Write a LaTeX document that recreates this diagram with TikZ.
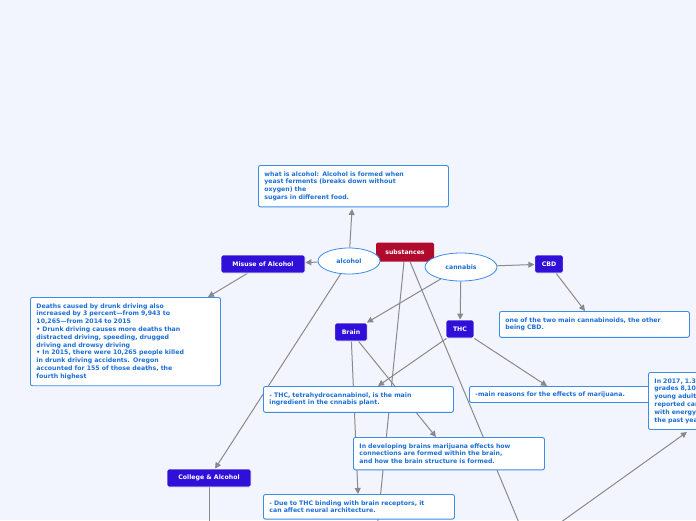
\documentclass[tikz,border=0pt]{standalone}
\usepackage{fontspec}
\setmainfont{DejaVu Sans}
\usetikzlibrary{arrows.meta,shapes.geometric}
\definecolor{bg}{HTML}{F3F5FE}
\definecolor{txt}{HTML}{1C6FD6}
\definecolor{edge}{HTML}{3B8DE8}
\definecolor{purp}{HTML}{3010D8}
\definecolor{redc}{HTML}{B00B2C}
\definecolor{conn}{HTML}{8A8A8A}
\pgfdeclarelayer{bgl}
\pgfdeclarelayer{lines}
\pgfsetlayers{bgl,lines,main}
\tikzset{
 every node/.style={font=\bfseries\fontsize{6.2}{7.8}\selectfont},
 note/.style={draw=edge,fill=white,line width=0.9pt,rounded corners=2pt,text=txt,align=left,anchor=north west,inner sep=6pt},
 topic/.style={fill=purp,text=white,rounded corners=1.5pt,minimum height=18pt,inner xsep=7pt,draw=white,line width=0.8pt},
 oval/.style={ellipse,draw=edge,fill=white,text=txt,line width=0.8pt},
 conn/.style={draw=conn,line width=1pt,-{Triangle[length=6pt,width=6pt]}},
 plain/.style={draw=conn,line width=1pt}
}
\begin{document}
\begin{tikzpicture}[x=1pt,y=-1pt]
\begin{pgfonlayer}{bgl}
\fill[bg] (0,0) rectangle (696,520);
\end{pgfonlayer}
\useasboundingbox (0,0) rectangle (696,520);
\node[fill=redc,text=white,rounded corners=1.5pt,minimum width=58pt,minimum height=19pt] (sub) at (405,252) {substances};
\node[oval,minimum width=62pt,minimum height=26pt] (alc) at (349,261) {alcohol};
\node[oval,minimum width=72pt,minimum height=28pt] (can) at (461,267) {cannabis};
\node[note,text width=178pt] (what) at (258,165) {what is alcohol: Alcohol is formed when\\yeast ferments (breaks down without\\oxygen) the\\sugars in different food.};
\node[topic,minimum width=84pt] (mis) at (263,264) {Misuse of Alcohol};
\node[note,text width=178pt] (death) at (30,297) {Deaths caused by drunk driving also\\increased by 3 percent—from 9,943 to\\10,265—from 2014 to 2015\\• Drunk driving causes more deaths than\\distracted driving, speeding, drugged\\driving and drowsy driving\\• In 2015, there were 10,265 people killed\\in drunk driving accidents. Oregon\\accounted for 155 of those deaths, the\\fourth highest};
\node[topic] (cbd) at (549,264) {CBD};
\node[note,text width=178pt] (one) at (499,311) {one of the two main cannabinoids, the other\\being CBD.};
\node[topic] (brain) at (351,332) {Brain};
\node[topic] (thc) at (460,329) {THC};
\node[note,text width=178pt] (thct) at (263,386) {- THC, tetrahydrocannabinol, is the main\\ingredient in the cnnabis plant.};
\node[note,text width=190pt,inner ysep=5pt] (main) at (469,386) {-main reasons for the effects of marijuana.};
\node[note,text width=180pt] (y2017) at (648,372) {In 2017, 1.3\% of students in\\grades 8,10 and 12 and\\young adults aged 19–22\\reported cannabis use mixed\\with energy drinks during\\the past year.};
\node[note,text width=179pt] (dev) at (353,437) {In developing brains marijuana effects how\\connections are formed within the brain,\\and how the brain structure is formed.};
\node[note,text width=179pt] (due) at (263,494) {- Due to THC binding with brain receptors, it\\can affect neural architecture.};
\node[topic,minimum width=84pt] (col) at (209,478) {College \& Alcohol};
\coordinate (o1) at (377,530);
\coordinate (o2) at (522,530);
\coordinate (o3) at (550,530);
\coordinate (o4) at (209,530);
\begin{pgfonlayer}{lines}
\draw[conn] (alc) -- (352,209);
\draw[conn] (alc) -- (mis);
\draw[conn] (mis) -- (208,297);
\draw[conn] (alc) -- (col);
\draw[plain] (sub.south) ++(-1,0) -- (o1);
\draw[plain] (sub.south) ++(5,0) -- (o2);
\draw[conn] (can) -- (cbd);
\draw[conn] (can) -- (brain);
\draw[conn] (can) -- (thc);
\draw[conn] (cbd) -- (585,311);
\draw[conn] (thc) -- (378,386);
\draw[conn] (thc) -- (547,386);
\draw[conn] (brain) -- (436,437);
\draw[conn] (brain) -- (358,494);
\draw[conn] (o3) -- (687,432);
\draw[plain] (col) -- (o4);
\end{pgfonlayer}
\end{tikzpicture}
\end{document}
